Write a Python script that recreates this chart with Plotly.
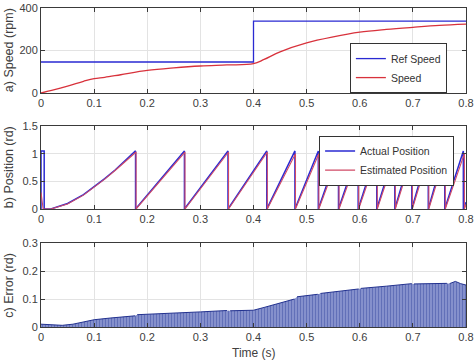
import plotly.graph_objects as go
from plotly.subplots import make_subplots

# ---- data ----
speed_t = [0, 0.02, 0.05, 0.08, 0.1, 0.12, 0.15, 0.2, 0.25, 0.3, 0.35, 0.4, 0.42, 0.45, 0.5, 0.55, 0.6, 0.65, 0.7, 0.75, 0.8]
speed_v = [0, 12, 32, 55, 68, 74, 86, 106, 118, 127, 132, 138, 158, 194, 236, 264, 286, 299, 309, 318, 324]
ref_t = [0, 0.4, 0.4, 0.8]
ref_v = [146, 146, 338, 338]

# actual position (sawtooth, wraps at ~1.05 rd)
act_t = [0, 0, 0.006, 0.006, 0.02, 0.05, 0.08, 0.1, 0.12, 0.14, 0.16, 0.178, 0.178,
         0.270, 0.270, 0.352, 0.352, 0.425, 0.425, 0.478, 0.478, 0.522, 0.522, 0.560, 0.560,
         0.597, 0.597, 0.632, 0.632, 0.666, 0.666, 0.698, 0.698, 0.729, 0.729, 0.760, 0.760,
         0.795, 0.795, 0.8]
act_v = [0, 1.05, 1.05, 0, 0.005, 0.1, 0.26, 0.4, 0.55, 0.71, 0.88, 1.05, 0,
         1.05, 0, 1.05, 0, 1.05, 0, 1.05, 0, 1.05, 0, 1.05, 0,
         1.05, 0, 1.05, 0, 1.05, 0, 1.05, 0, 1.05, 0, 1.05, 0,
         1.05, 0, 0.12]
# estimated position (slightly lagging)
est_t = [0, 0.004, 0.02, 0.05, 0.08, 0.1, 0.12, 0.14, 0.16, 0.179, 0.179,
         0.271, 0.271, 0.353, 0.353, 0.426, 0.426, 0.479, 0.479, 0.523, 0.523, 0.561, 0.561,
         0.598, 0.598, 0.633, 0.633, 0.667, 0.667, 0.699, 0.699, 0.730, 0.730, 0.761, 0.761,
         0.797, 0.797, 0.8]
est_v = [0.3, 0, 0.004, 0.09, 0.25, 0.39, 0.54, 0.70, 0.87, 1.03, 0,
         1.03, 0, 1.03, 0, 1.03, 0, 1.0, 0, 1.0, 0, 0.98, 0,
         0.98, 0, 0.98, 0, 0.98, 0, 0.98, 0, 0.98, 0, 0.98, 0,
         1.0, 0, 0.08]

# error ripple envelope (peak values), None = gap at position wraps
err_t = [0, 0.02, 0.04, 0.06, 0.08, 0.1, 0.13, 0.16, 0.177, None, 0.181, 0.2, 0.25, 0.3, 0.35, None,
         0.356, 0.4, 0.42, 0.45, 0.477, None, 0.482, 0.5, 0.521, None, 0.526, 0.55, 0.598, None,
         0.602, 0.62, 0.65, 0.698, None, 0.702, 0.73, 0.764, None, 0.769, 0.78, 0.79, 0.8]
err_v = [0.01, 0.008, 0.006, 0.01, 0.018, 0.026, 0.032, 0.037, 0.04, None, 0.044, 0.046, 0.05, 0.054, 0.059, None,
         0.058, 0.06, 0.07, 0.085, 0.1, None, 0.108, 0.112, 0.117, None, 0.12, 0.126, 0.136, None,
         0.138, 0.142, 0.146, 0.155, None, 0.154, 0.155, 0.156, None, 0.155, 0.163, 0.155, 0.15]

x_ticks = [0, 0.1, 0.2, 0.3, 0.4, 0.5, 0.6, 0.7, 0.8]
x_ticklabels = ["0", "0.1", "0.2", "0.3", "0.4", "0.5", "0.6", "0.7", "0.8"]

FONT = "Liberation Sans, Arial, sans-serif"
BLUE = "#2a2ad2"
RED = "#d8323c"
NAVY = "#22318f"

fig = make_subplots(rows=3, cols=1)

fig.add_trace(go.Scatter(x=ref_t, y=ref_v, mode="lines", name="Ref Speed",
                         line=dict(color=BLUE, width=1.3), legend="legend"), row=1, col=1)
fig.add_trace(go.Scatter(x=speed_t, y=speed_v, mode="lines", name="Speed", line_shape="spline",
                         line=dict(color=RED, width=1.3), legend="legend"), row=1, col=1)

fig.add_trace(go.Scatter(x=act_t, y=act_v, mode="lines", name="Actual Position",
                         line=dict(color=BLUE, width=1.5), legend="legend2"), row=2, col=1)
fig.add_trace(go.Scatter(x=est_t, y=est_v, mode="lines", name="Estimated Position",
                         line=dict(color="#d04a66", width=1.1), legend="legend2"), row=2, col=1)

fig.add_trace(go.Scatter(x=err_t, y=err_v, mode="lines", showlegend=False,
                         fill="tozeroy", fillcolor="#9aa6dc",
                         fillpattern=dict(shape="|", fgcolor=NAVY, bgcolor="#a3aee0", size=3, solidity=0.65),
                         line=dict(color=NAVY, width=1)), row=3, col=1)

doms = [[0.7335, 1.0], [0.370, 0.630], [0.0, 0.263]]
yranges = [[0, 400], [0, 1.5], [0, 0.3]]
yticks = [[0, 200, 400], [0, 0.5, 1, 1.5], [0, 0.1, 0.2, 0.3]]
yticktext = [["0", "200", "400"], ["0", "0.5", "1", "1.5"], ["0", "0.1", "0.2", "0.3"]]
ytitles = ["a) Speed (rpm)", "b) Position (rd)", "c) Error (rd)"]

axis_common = dict(showline=True, linecolor="#3a3a3a", linewidth=1, mirror="ticks",
                   ticks="inside", ticklen=4, tickcolor="#3a3a3a", automargin=False,
                   showgrid=True, gridcolor="#e3e3e3", gridwidth=1, zeroline=False,
                   tickfont=dict(family=FONT, size=11, color="#404040"))

for i in range(3):
    fig.update_xaxes(range=[0, 0.8], tickvals=x_ticks, ticktext=x_ticklabels,
                     domain=[0, 1], row=i + 1, col=1, **axis_common)
    fig.update_yaxes(range=yranges[i], tickvals=yticks[i], ticktext=yticktext[i],
                     domain=doms[i], row=i + 1, col=1, **axis_common)
    fig.add_annotation(text=ytitles[i], xref="paper", yref="paper", x=-0.076, xanchor="center",
                       y=(doms[i][0] + doms[i][1]) / 2, yanchor="middle", textangle=-90, showarrow=False,
                       font=dict(family=FONT, size=12.5, color="#404040"))

fig.add_annotation(text="Time (s)", xref="paper", yref="paper", x=0.5, y=-0.052,
                   yanchor="top", showarrow=False,
                   font=dict(family=FONT, size=12, color="#404040"))

leg_common = dict(bgcolor="white", bordercolor="#333333", borderwidth=1,
                  font=dict(family=FONT, size=10.5, color="#333333"),
                  xanchor="right", yanchor="top", tracegroupgap=0, itemwidth=30)
fig.update_layout(
    width=474, height=360,
    margin=dict(l=41, r=8, t=8, b=33, autoexpand=False),
    paper_bgcolor="white", plot_bgcolor="white",
    showlegend=True,
    legend=dict(x=0.955, y=0.89, **leg_common),
    legend2=dict(x=0.972, y=0.60, **leg_common),
)

fig.write_html("out.html", config={"displayModeBar": False},
               post_script="document.body.style.margin='0px';document.body.style.overflow='hidden';")
